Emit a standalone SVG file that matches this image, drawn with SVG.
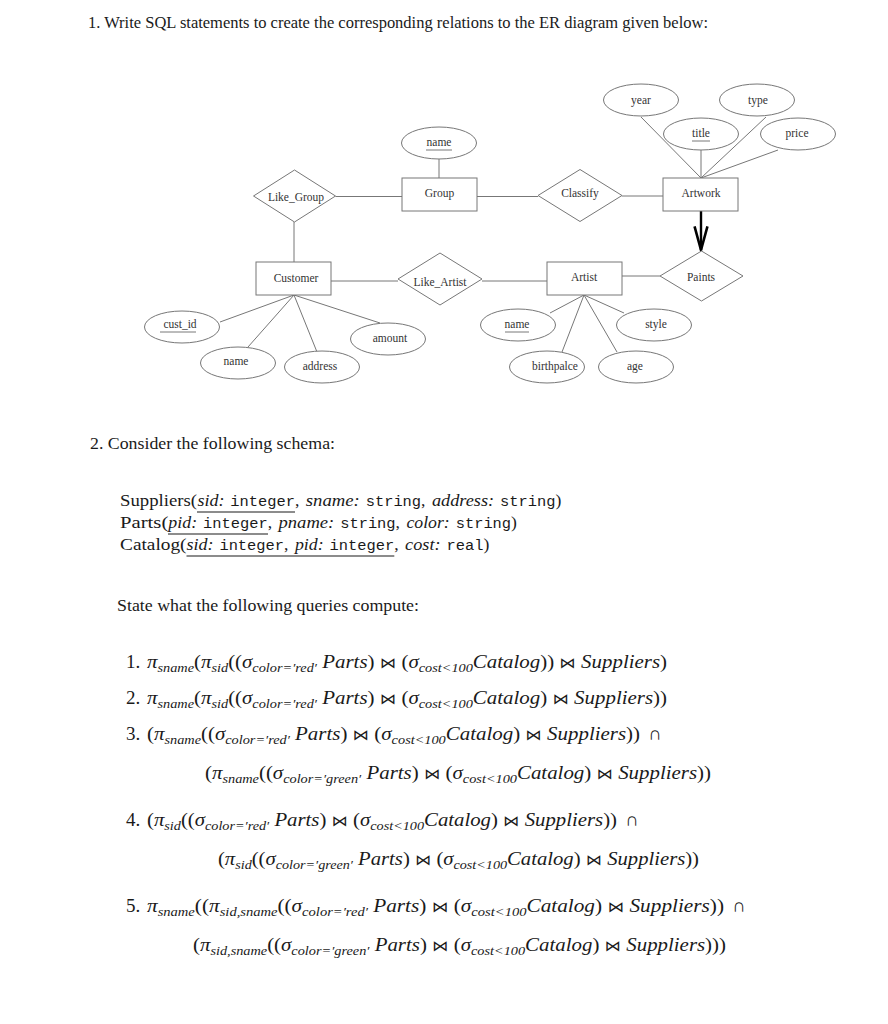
<svg xmlns="http://www.w3.org/2000/svg" width="888" height="1024" viewBox="0 0 888 1024">
<style>
.bg{fill:#fff}
.ent{fill:#fff;stroke:#777;stroke-width:1}
.rel{fill:#fff;stroke:#777;stroke-width:1}
.att{fill:#fff;stroke:#777;stroke-width:1}
.lbl{font-family:"Liberation Serif","Times New Roman",serif;font-size:11.5px;fill:#333;text-anchor:middle}
.ul{stroke:#555;stroke-width:0.8}
.conn line{stroke:#777;stroke-width:1}
.h{font-family:"Liberation Serif","Times New Roman",serif;font-size:17px;fill:#1a1a1a}
.r{font-family:"Liberation Serif","Times New Roman",serif;font-size:17.6px;fill:#1a1a1a}
.it{font-family:"Liberation Serif","Times New Roman",serif;font-size:17.6px;font-style:italic;fill:#1a1a1a}
.tt{font-family:"Liberation Mono","Courier New",monospace;font-size:15.5px;fill:#1a1a1a}
.sul{stroke:#1a1a1a;stroke-width:1.1}
.q{font-family:"Liberation Serif","DejaVu Serif",serif;font-size:19px;fill:#1a1a1a}
.qi{font-style:italic}
.qs{font-size:13px;font-style:italic}
.bt{font-family:"DejaVu Serif","DejaVu Sans",serif;font-size:15px;font-weight:normal}
</style>
<defs>
<marker id="vhead" markerUnits="userSpaceOnUse" markerWidth="28" markerHeight="16" refX="24" refY="7" orient="auto" viewBox="0 0 26 14">
<path d="M2,1 L24,7 L2,13" fill="none" stroke="#000" stroke-width="2.4"/>
</marker>
</defs>
<rect class="bg" x="0" y="0" width="888" height="1024"/>

<text class="h" x="88" y="28" textLength="620" lengthAdjust="spacingAndGlyphs">1. Write SQL statements to create the corresponding relations to the ER diagram given below:</text>

<g id="connectors" class="conn">
<line x1="439" y1="159" x2="439" y2="178"/>
<line x1="335.5" y1="196.5" x2="402" y2="196.5"/>
<line x1="294" y1="222" x2="294" y2="262"/>
<line x1="331" y1="281" x2="398" y2="281"/>
<line x1="482" y1="281" x2="547" y2="281"/>
<line x1="477" y1="196.5" x2="538" y2="196.5"/>
<line x1="622" y1="196" x2="663" y2="196"/>
<line x1="622" y1="276" x2="660" y2="276"/>
<line x1="294" y1="295" x2="220" y2="322"/>
<line x1="294" y1="295" x2="248" y2="347"/>
<line x1="294" y1="295" x2="317" y2="352"/>
<line x1="294" y1="295" x2="380" y2="323"/>
<line x1="701" y1="178" x2="641" y2="117"/>
<line x1="701" y1="178" x2="701" y2="150"/>
<line x1="701" y1="178" x2="766" y2="117"/>
<line x1="701" y1="178" x2="778" y2="150"/>
<line x1="584" y1="295" x2="550" y2="313"/>
<line x1="584" y1="295" x2="624" y2="313"/>
<line x1="584" y1="295" x2="562" y2="352"/>
<line x1="584" y1="295" x2="617" y2="352"/>
<path d="M701,211 L701,250" fill="none" stroke="#000" stroke-width="2.4" marker-end="url(#vhead)"/>
</g>

<g id="Group"><rect class="ent" x="402" y="178" width="75" height="33"/><text class="lbl" x="439.5" y="197">Group</text></g>
<g id="Customer"><rect class="ent" x="256" y="262" width="75" height="33"/><text class="lbl" x="296" y="282">Customer</text></g>
<g id="Artwork"><rect class="ent" x="663" y="178" width="75" height="33"/><text class="lbl" x="701" y="197">Artwork</text></g>
<g id="Artist"><rect class="ent" x="547" y="262" width="75" height="33"/><text class="lbl" x="584" y="281">Artist</text></g>

<g id="Like_Group"><polygon class="rel" points="253.5,196 294.5,170 335.5,196 294.5,222"/><text class="lbl" x="296" y="201">Like_Group</text></g>
<g id="Like_Artist"><polygon class="rel" points="398,279 440,253 482,279 440,305"/><text class="lbl" x="440" y="286">Like_Artist</text></g>
<g id="Classify"><polygon class="rel" points="538,195.5 580,169.5 622,195.5 580,221.5"/><text class="lbl" x="580" y="197">Classify</text></g>
<g id="Paints"><polygon class="rel" points="660,276 701.5,251 743,276 701.5,301"/><text class="lbl" x="701" y="281">Paints</text></g>

<g id="attr_group_name"><ellipse class="att" cx="439" cy="143" rx="37.5" ry="16"/><text class="lbl" x="439" y="146">name</text><line class="ul" x1="426" y1="150" x2="452" y2="150"/></g>
<g id="attr_cust_id"><ellipse class="att" cx="182" cy="327" rx="37.5" ry="16"/><text class="lbl" x="180" y="328">cust_id</text><line class="ul" x1="160" y1="332" x2="196" y2="332"/></g>
<g id="attr_cust_name"><ellipse class="att" cx="238" cy="363" rx="37.5" ry="16"/><text class="lbl" x="236" y="365">name</text></g>
<g id="attr_address"><ellipse class="att" cx="322" cy="367" rx="37.5" ry="16"/><text class="lbl" x="320" y="370">address</text></g>
<g id="attr_amount"><ellipse class="att" cx="388" cy="339" rx="37.5" ry="16"/><text class="lbl" x="390" y="342">amount</text></g>
<g id="attr_year"><ellipse class="att" cx="641" cy="100" rx="37.5" ry="16"/><text class="lbl" x="641" y="104">year</text></g>
<g id="attr_title"><ellipse class="att" cx="701" cy="134" rx="37.5" ry="16"/><text class="lbl" x="701" y="137">title</text><line class="ul" x1="692" y1="141" x2="710" y2="141"/></g>
<g id="attr_type"><ellipse class="att" cx="757" cy="100" rx="37.5" ry="16"/><text class="lbl" x="758" y="104">type</text></g>
<g id="attr_price"><ellipse class="att" cx="798" cy="134" rx="37.5" ry="16"/><text class="lbl" x="797" y="137">price</text></g>
<g id="attr_artist_name"><ellipse class="att" cx="518" cy="325" rx="37.5" ry="16"/><text class="lbl" x="517" y="328">name</text><line class="ul" x1="505" y1="332" x2="529" y2="332"/></g>
<g id="attr_style"><ellipse class="att" cx="654" cy="325" rx="37.5" ry="16"/><text class="lbl" x="656" y="328">style</text></g>
<g id="attr_birthpalce"><ellipse class="att" cx="547" cy="367" rx="37.5" ry="16"/><text class="lbl" x="555" y="370">birthpalce</text></g>
<g id="attr_age"><ellipse class="att" cx="636" cy="367" rx="37.5" ry="16"/><text class="lbl" x="635" y="370">age</text></g>

<text class="h" x="90" y="449" textLength="245" lengthAdjust="spacingAndGlyphs">2. Consider the following schema:</text>

<g id="schema">
<text class="r" x="120" y="506" textLength="77" lengthAdjust="spacingAndGlyphs">Suppliers(</text>
<text class="it" x="197.4" y="506" textLength="27" lengthAdjust="spacingAndGlyphs">sid:</text>
<text class="tt" x="230.3" y="506" textLength="64.7" lengthAdjust="spacingAndGlyphs">integer</text>
<text class="r" x="295" y="506">,</text>
<text class="it" x="305.8" y="506" textLength="54" lengthAdjust="spacingAndGlyphs">sname:</text>
<text class="tt" x="365.7" y="506" textLength="55.4" lengthAdjust="spacingAndGlyphs">string</text>
<text class="r" x="421.1" y="506">,</text>
<text class="it" x="431.9" y="506" textLength="62.3" lengthAdjust="spacingAndGlyphs">address:</text>
<text class="tt" x="500.1" y="506" textLength="55.4" lengthAdjust="spacingAndGlyphs">string</text>
<text class="r" x="555.5" y="506">)</text>
<line class="sul" x1="197" y1="512" x2="295" y2="512"/>

<text class="r" x="120" y="528" textLength="48.3" lengthAdjust="spacingAndGlyphs">Parts(</text>
<text class="it" x="168.3" y="528" textLength="28.8" lengthAdjust="spacingAndGlyphs">pid:</text>
<text class="tt" x="203" y="528" textLength="64.7" lengthAdjust="spacingAndGlyphs">integer</text>
<text class="r" x="267.7" y="528">,</text>
<text class="it" x="278.5" y="528" textLength="55.8" lengthAdjust="spacingAndGlyphs">pname:</text>
<text class="tt" x="340.2" y="528" textLength="55.4" lengthAdjust="spacingAndGlyphs">string</text>
<text class="r" x="395.6" y="528">,</text>
<text class="it" x="406.4" y="528" textLength="43.4" lengthAdjust="spacingAndGlyphs">color:</text>
<text class="tt" x="455.7" y="528" textLength="55.4" lengthAdjust="spacingAndGlyphs">string</text>
<text class="r" x="511.1" y="528">)</text>
<line class="sul" x1="168" y1="534" x2="268" y2="534"/>

<text class="r" x="120" y="550" textLength="66.5" lengthAdjust="spacingAndGlyphs">Catalog(</text>
<text class="it" x="186.5" y="550" textLength="27" lengthAdjust="spacingAndGlyphs">sid:</text>
<text class="tt" x="219.4" y="550" textLength="64.7" lengthAdjust="spacingAndGlyphs">integer</text>
<text class="r" x="284.1" y="550">,</text>
<text class="it" x="294.9" y="550" textLength="28.8" lengthAdjust="spacingAndGlyphs">pid:</text>
<text class="tt" x="329.6" y="550" textLength="64.7" lengthAdjust="spacingAndGlyphs">integer</text>
<text class="r" x="394.3" y="550">,</text>
<text class="it" x="405.1" y="550" textLength="35.5" lengthAdjust="spacingAndGlyphs">cost:</text>
<text class="tt" x="446.5" y="550" textLength="37" lengthAdjust="spacingAndGlyphs">real</text>
<text class="r" x="483.5" y="550">)</text>
<line class="sul" x1="186.5" y1="556" x2="394.3" y2="556"/>
</g>

<text class="h" x="117" y="611" textLength="302" lengthAdjust="spacingAndGlyphs">State what the following queries compute:</text>

<g id="queries">
<text class="q" x="126" y="668">1.</text>
<text class="q" x="147" y="668" textLength="520" lengthAdjust="spacingAndGlyphs"><tspan class="qi">π</tspan><tspan class="qs" dy="4">sname</tspan><tspan dy="-4">(</tspan><tspan class="qi">π</tspan><tspan class="qs" dy="4">sid</tspan><tspan dy="-4">((</tspan><tspan class="qi">σ</tspan><tspan class="qs" dy="4">color=′red′</tspan><tspan class="qi" dy="-4"> Parts</tspan><tspan>) </tspan><tspan class="bt">⋈</tspan><tspan> (</tspan><tspan class="qi">σ</tspan><tspan class="qs" dy="4">cost&lt;100</tspan><tspan class="qi" dy="-4">Catalog</tspan><tspan>)) </tspan><tspan class="bt">⋈</tspan><tspan> </tspan><tspan class="qi">Suppliers</tspan><tspan>)</tspan></text>

<text class="q" x="126" y="704">2.</text>
<text class="q" x="147" y="704" textLength="520" lengthAdjust="spacingAndGlyphs"><tspan class="qi">π</tspan><tspan class="qs" dy="4">sname</tspan><tspan dy="-4">(</tspan><tspan class="qi">π</tspan><tspan class="qs" dy="4">sid</tspan><tspan dy="-4">((</tspan><tspan class="qi">σ</tspan><tspan class="qs" dy="4">color=′red′</tspan><tspan class="qi" dy="-4"> Parts</tspan><tspan>) </tspan><tspan class="bt">⋈</tspan><tspan> (</tspan><tspan class="qi">σ</tspan><tspan class="qs" dy="4">cost&lt;100</tspan><tspan class="qi" dy="-4">Catalog</tspan><tspan>) </tspan><tspan class="bt">⋈</tspan><tspan> </tspan><tspan class="qi">Suppliers</tspan><tspan>))</tspan></text>

<text class="q" x="126" y="740">3.</text>
<text class="q" x="147" y="740" textLength="493" lengthAdjust="spacingAndGlyphs"><tspan>(</tspan><tspan class="qi">π</tspan><tspan class="qs" dy="4">sname</tspan><tspan dy="-4">((</tspan><tspan class="qi">σ</tspan><tspan class="qs" dy="4">color=′red′</tspan><tspan class="qi" dy="-4"> Parts</tspan><tspan>) </tspan><tspan class="bt">⋈</tspan><tspan> (</tspan><tspan class="qi">σ</tspan><tspan class="qs" dy="4">cost&lt;100</tspan><tspan class="qi" dy="-4">Catalog</tspan><tspan>) </tspan><tspan class="bt">⋈</tspan><tspan> </tspan><tspan class="qi">Suppliers</tspan><tspan>))</tspan></text>
<text class="q" x="648" y="740">∩</text>
<text class="q" x="205" y="779" textLength="506" lengthAdjust="spacingAndGlyphs"><tspan>(</tspan><tspan class="qi">π</tspan><tspan class="qs" dy="4">sname</tspan><tspan dy="-4">((</tspan><tspan class="qi">σ</tspan><tspan class="qs" dy="4">color=′green′</tspan><tspan class="qi" dy="-4"> Parts</tspan><tspan>) </tspan><tspan class="bt">⋈</tspan><tspan> (</tspan><tspan class="qi">σ</tspan><tspan class="qs" dy="4">cost&lt;100</tspan><tspan class="qi" dy="-4">Catalog</tspan><tspan>) </tspan><tspan class="bt">⋈</tspan><tspan> </tspan><tspan class="qi">Suppliers</tspan><tspan>))</tspan></text>

<text class="q" x="126" y="826">4.</text>
<text class="q" x="147" y="826" textLength="470" lengthAdjust="spacingAndGlyphs"><tspan>(</tspan><tspan class="qi">π</tspan><tspan class="qs" dy="4">sid</tspan><tspan dy="-4">((</tspan><tspan class="qi">σ</tspan><tspan class="qs" dy="4">color=′red′</tspan><tspan class="qi" dy="-4"> Parts</tspan><tspan>) </tspan><tspan class="bt">⋈</tspan><tspan> (</tspan><tspan class="qi">σ</tspan><tspan class="qs" dy="4">cost&lt;100</tspan><tspan class="qi" dy="-4">Catalog</tspan><tspan>) </tspan><tspan class="bt">⋈</tspan><tspan> </tspan><tspan class="qi">Suppliers</tspan><tspan>))</tspan></text>
<text class="q" x="625" y="826">∩</text>
<text class="q" x="218" y="865" textLength="481" lengthAdjust="spacingAndGlyphs"><tspan>(</tspan><tspan class="qi">π</tspan><tspan class="qs" dy="4">sid</tspan><tspan dy="-4">((</tspan><tspan class="qi">σ</tspan><tspan class="qs" dy="4">color=′green′</tspan><tspan class="qi" dy="-4"> Parts</tspan><tspan>) </tspan><tspan class="bt">⋈</tspan><tspan> (</tspan><tspan class="qi">σ</tspan><tspan class="qs" dy="4">cost&lt;100</tspan><tspan class="qi" dy="-4">Catalog</tspan><tspan>) </tspan><tspan class="bt">⋈</tspan><tspan> </tspan><tspan class="qi">Suppliers</tspan><tspan>))</tspan></text>

<text class="q" x="126" y="912">5.</text>
<text class="q" x="147" y="912" textLength="577" lengthAdjust="spacingAndGlyphs"><tspan class="qi">π</tspan><tspan class="qs" dy="4">sname</tspan><tspan dy="-4">((</tspan><tspan class="qi">π</tspan><tspan class="qs" dy="4">sid,sname</tspan><tspan dy="-4">((</tspan><tspan class="qi">σ</tspan><tspan class="qs" dy="4">color=′red′</tspan><tspan class="qi" dy="-4"> Parts</tspan><tspan>) </tspan><tspan class="bt">⋈</tspan><tspan> (</tspan><tspan class="qi">σ</tspan><tspan class="qs" dy="4">cost&lt;100</tspan><tspan class="qi" dy="-4">Catalog</tspan><tspan>) </tspan><tspan class="bt">⋈</tspan><tspan> </tspan><tspan class="qi">Suppliers</tspan><tspan>))</tspan></text>
<text class="q" x="732" y="912">∩</text>
<text class="q" x="193" y="951" textLength="533" lengthAdjust="spacingAndGlyphs"><tspan>(</tspan><tspan class="qi">π</tspan><tspan class="qs" dy="4">sid,sname</tspan><tspan dy="-4">((</tspan><tspan class="qi">σ</tspan><tspan class="qs" dy="4">color=′green′</tspan><tspan class="qi" dy="-4"> Parts</tspan><tspan>) </tspan><tspan class="bt">⋈</tspan><tspan> (</tspan><tspan class="qi">σ</tspan><tspan class="qs" dy="4">cost&lt;100</tspan><tspan class="qi" dy="-4">Catalog</tspan><tspan>) </tspan><tspan class="bt">⋈</tspan><tspan> </tspan><tspan class="qi">Suppliers</tspan><tspan>)))</tspan></text>
</g>
</svg>
